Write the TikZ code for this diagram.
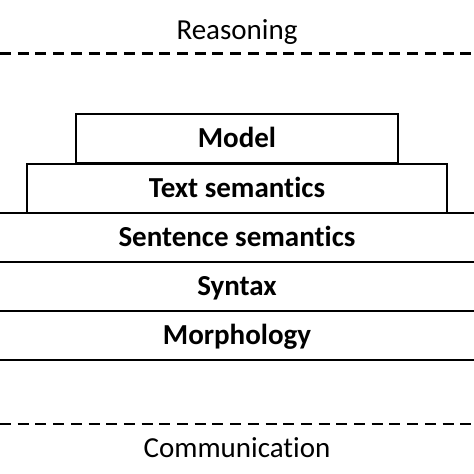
\documentclass[tikz,border=0pt]{standalone}
\usepackage{fontspec}
\setmainfont[Ligatures=NoCommon]{Carlito}
\usetikzlibrary{positioning}

\begin{document}
\begin{tikzpicture}[x=1pt, y=1pt,
  every node/.style={font=\fontsize{29}{32}\selectfont, text height=18.5pt, text depth=0pt, inner sep=0pt},
  layer/.style={font=\fontsize{29}{32}\selectfont\bfseries, minimum height=48.5pt},
  band/.style={layer, minimum width=474pt},
  border/.style={line width=1.5pt},
  limit/.style={line width=2.4pt, dash pattern=on 11pt off 6.7pt}]

\useasboundingbox (0,0) rectangle (474,474);

% Define layers stacked from the bottom
\node[band] (morph) at (237,138.5) {Morphology};
\node[band, above=0pt of morph] (syntax) {Syntax};
\node[band, above=0pt of syntax] (sent) {Sentence semantics};
\node[layer, draw, border, minimum width=420pt, above=0pt of sent.north, anchor=south] (text) {Text semantics};
\node[layer, draw, border, minimum width=322pt, above=0pt of text] (model) {Model};

% Draw layer borders
\draw[border] (sent.north west) -- (sent.north east);
\draw[border] (syntax.north west) -- (syntax.north east);
\draw[border] (morph.north west) -- (morph.north east);
\draw[border] (morph.south west) -- (morph.south east);

% Draw limits with labels
\coordinate (rl) at (0,420.5);
\coordinate (rr) at (474,420.5);
\coordinate (cl) at (0,50);
\coordinate (cr) at (474,50);
\draw[limit] (rl) -- (rr);
\draw[limit] (cl) -- (cr);
\node (reason) at (237,443.5) {Reasoning};
\node (comm) at (237,26) {Communication};

\end{tikzpicture}
\end{document}
